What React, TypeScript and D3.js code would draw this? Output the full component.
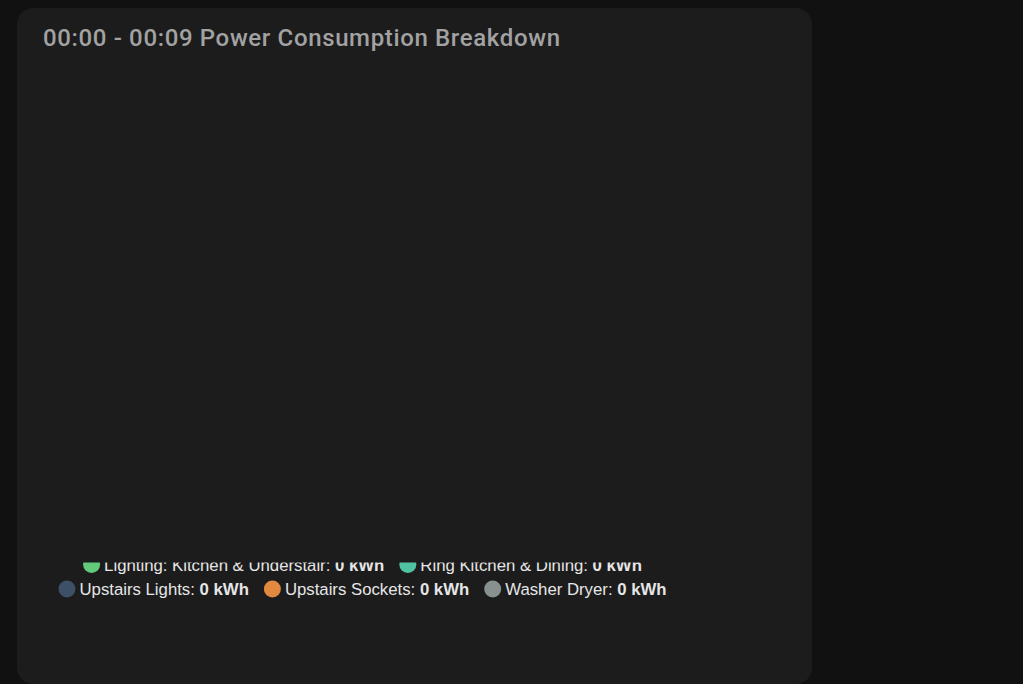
import React, { useEffect, useRef } from "react";
import * as d3 from "d3";

const title = "00:00 - 00:09 Power Consumption Breakdown";
const categories = [
  "Lighting: Kitchen & Understair",
  "Ring Kitchen & Dining",
  "Upstairs Lights",
  "Upstairs Sockets",
  "Washer Dryer",
];
const values = [0, 0, 0, 0, 0];
const unit = "kWh";
const colors = ["#63c97b", "#50c3a2", "#3d5068", "#e0893f", "#889090"];

const W = 1023;
const H = 684;

export default function App() {
  const ref = useRef<SVGSVGElement | null>(null);

  useEffect(() => {
    const svg = d3.select(ref.current);
    svg.selectAll("*").remove();

    svg.append("rect").attr("width", W).attr("height", H).attr("fill", "#111111");

    const card = { x: 17, y: 8, w: 795, h: 676 };
    svg
      .append("rect")
      .attr("x", card.x)
      .attr("y", card.y)
      .attr("width", card.w)
      .attr("height", card.h)
      .attr("rx", 16)
      .attr("fill", "#1c1c1c");

    const titleText = svg
      .append("text")
      .attr("x", 43)
      .attr("y", 45.5)
      .attr("fill", "#a2a2a2")
      .style("font-family", "Roboto, sans-serif")
      .style("font-size", "24px")
      .style("font-weight", "500")
      .text(title);
    const targetW = 517;
    const tw0 = (titleText.node() as SVGTextElement).getComputedTextLength();
    const ls = (targetW - tw0) / (title.length - 1);
    titleText.style("letter-spacing", `${ls}px`);

    // donut (all zero values -> nothing visible)
    const cx = 415;
    const cy = 300;
    const pie = d3.pie<number>().sort(null).value((d) => d);
    const arcs = pie(values);
    const arc = d3.arc<d3.PieArcDatum<number>>().innerRadius(120).outerRadius(200);
    const color = d3.scaleOrdinal<string, string>().domain(categories).range(colors);
    svg
      .append("g")
      .attr("transform", `translate(${cx},${cy})`)
      .selectAll("path")
      .data(arcs)
      .join("path")
      .attr("d", (d) => (d.endAngle - d.startAngle > 0 ? arc(d) : null))
      .attr("fill", (_d, i) => color(categories[i]));

    // legend with clip
    const clipId = "legend-clip";
    svg
      .append("clipPath")
      .attr("id", clipId)
      .append("rect")
      .attr("x", card.x)
      .attr("y", 562.5)
      .attr("width", card.w)
      .attr("height", 60);

    const legend = svg.append("g").attr("clip-path", `url(#${clipId})`);
    const r = 8.5;
    const gapText = 4;
    const gapItem = 15;
    const fontSize = 16.75;
    const rowH = 24.5;
    const centerX = 362.5;
    const firstRowY = 564.5;
    const maxWidth = 700;

    const items = categories.map((c, i) => {
      const g = legend.append("g");
      g.append("circle").attr("r", r).attr("fill", color(c));
      const t = g
        .append("text")
        .attr("x", r + gapText)
        .attr("dy", "0.36em")
        .attr("fill", "#e6e6e6")
        .style("font-family", "'Liberation Sans', Arial, Helvetica, sans-serif")
        .style("font-size", `${fontSize}px`);
      t.append("tspan").text(`${c}: `);
      t.append("tspan").attr("font-weight", "bold").text(`${values[i]} ${unit}`);
      const tw = (t.node() as SVGTextElement).getComputedTextLength();
      return { g, w: 2 * r + gapText + tw };
    });

    const rows: { g: any; w: number }[][] = [];
    let cur: { g: any; w: number }[] = [];
    let curW = 0;
    items.forEach((it) => {
      const add = cur.length ? gapItem + it.w : it.w;
      if (cur.length && curW + add > maxWidth) {
        rows.push(cur);
        cur = [it];
        curW = it.w;
      } else {
        cur.push(it);
        curW += add;
      }
    });
    if (cur.length) rows.push(cur);

    rows.forEach((row, ri) => {
      const total = d3.sum(row, (d) => d.w) + gapItem * (row.length - 1);
      let x = centerX - total / 2;
      const y = firstRowY + ri * rowH;
      row.forEach((it) => {
        it.g.attr("transform", `translate(${x + r},${y})`);
        x += it.w + gapItem;
      });
    });
  }, []);

  return (
    <svg
      ref={ref}
      width={W}
      height={H}
      style={{ position: "absolute", left: 0, top: 0, display: "block" }}
    />
  );
}
